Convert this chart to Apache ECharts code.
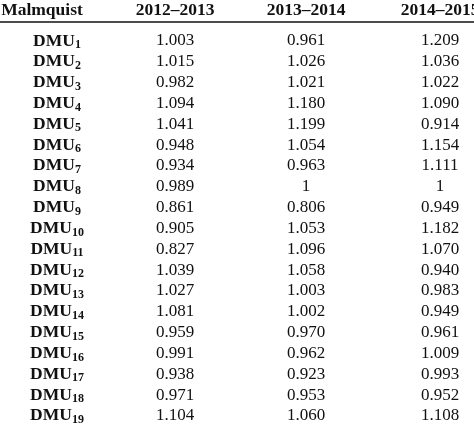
<!DOCTYPE html>
<html><head><meta charset="utf-8">
<script src="https://cdn.jsdelivr.net/npm/echarts@6/dist/echarts.min.js"></script>
<style>html,body{margin:0;padding:0;background:#fff}#c{width:474px;height:433px}</style>
</head><body><div id="c"></div>
<script>
const headers = ['Malmquist','2012–2013','2013–2014','2014–2015'];
const dmus = ['1','2','3','4','5','6','7','8','9','10','11','12','13','14','15','16','17','18','19'];
const v1213 = ['1.003','1.015','0.982','1.094','1.041','0.948','0.934','0.989','0.861','0.905','0.827','1.039','1.027','1.081','0.959','0.991','0.938','0.971','1.104'];
const v1314 = ['0.961','1.026','1.021','1.180','1.199','1.054','0.963','1','0.806','1.053','1.096','1.058','1.003','1.002','0.970','0.962','0.923','0.953','1.060'];
const v1415 = ['1.209','1.036','1.022','1.090','0.914','1.154','1.111','1','0.949','1.182','1.070','0.940','0.983','0.949','0.961','1.009','0.993','0.952','1.108'];

const chart = echarts.init(document.getElementById('c'));
const font = '"Liberation Serif", serif';
const colX = [42, 175, 306, 440];
const g = [];
headers.forEach((h,i)=>g.push({type:'text',x:colX[i],y:10,style:{text:h,font:'bold 17.5px '+font,fill:'#111',align:'center',verticalAlign:'middle'}}));
g.push({type:'line',shape:{x1:0,y1:22,x2:474,y2:22},style:{stroke:'#111',lineWidth:1.5}});
const y0 = 41, dy = 20.83;
dmus.forEach((d,i)=>{
  const y = y0 + i*dy;
  g.push({type:'text',x:57,y:y,style:{text:'{m|DMU}{s|'+d+'}',align:'center',verticalAlign:'middle',
    rich:{m:{font:'bold 17.5px '+font,fill:'#111'},s:{font:'bold 12px '+font,fill:'#111',padding:[8,0,0,0]}}}});
  [v1213,v1314,v1415].forEach((arr,j)=>g.push({type:'text',x:colX[j+1],y:y,style:{text:arr[i],font:'17px '+font,fill:'#111',align:'center',verticalAlign:'middle'}}));
});
chart.setOption({animation:false,graphic:{elements:g}});
</script></body></html>
